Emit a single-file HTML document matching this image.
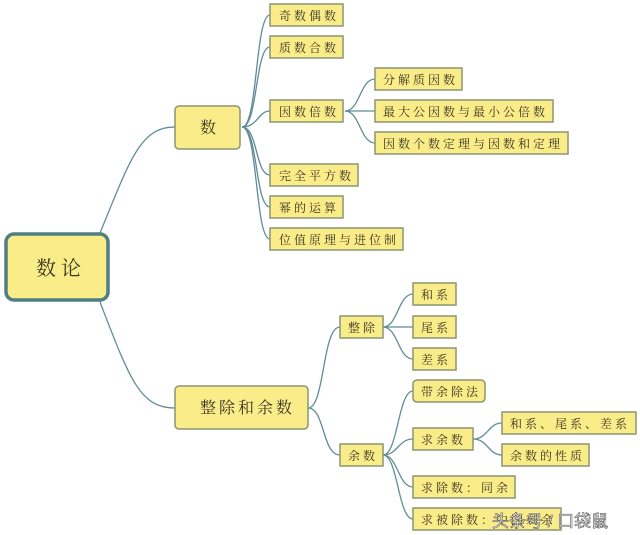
<!DOCTYPE html>
<html><head><meta charset="utf-8"><style>
html,body{margin:0;padding:0;background:#fff;width:640px;height:535px;overflow:hidden}
text{font-family:"Liberation Serif","Noto Serif CJK SC","Noto Sans CJK SC",serif;fill:#3a3520}
</style></head><body>
<svg width="640" height="535" viewBox="0 0 640 535" xmlns="http://www.w3.org/2000/svg">
<g fill="none" stroke="#5f8c98" stroke-width="1.3">
<path d="M100 233 C130 160,140 127,175 127"/>
<path d="M100 302 C130 380,140 408,175 408"/>
<path d="M242 127 C258 127,255 15,270 15"/>
<path d="M242 127 C258 127,255 47,270 47"/>
<path d="M242 127 C258 127,258 111,270 111"/>
<path d="M242 127 C258 127,255 175,270 175"/>
<path d="M242 127 C258 127,255 207,270 207"/>
<path d="M242 127 C258 127,255 239,270 239"/>
<path d="M345 111 C360 111,360 79,375 79"/>
<path d="M345 111 L375 111"/>
<path d="M345 111 C360 111,360 143,375 143"/>
<path d="M308 408 C325 408,322 327,340 327"/>
<path d="M308 408 C325 408,322 455,340 455"/>
<path d="M383 327 C398 327,398 294,413 294"/>
<path d="M383 327 L413 327"/>
<path d="M383 327 C398 327,398 359,413 359"/>
<path d="M383 455 C398 455,398 391,413 391"/>
<path d="M383 455 C398 455,398 439,413 439"/>
<path d="M383 455 C398 455,398 487,413 487"/>
<path d="M383 455 C398 455,398 519,413 519"/>
<path d="M473 439 C488 439,488 423,502 423"/>
<path d="M473 439 C488 439,488 455,502 455"/>
</g>
<g fill="#fbec8a" stroke="#8a9672" stroke-width="1.5">
<rect x="6" y="234" width="102" height="66" rx="8" stroke="#4f7f82" stroke-width="3.5"/>
<rect x="175" y="106" width="65" height="43" rx="4"/>
<rect x="175" y="386" width="133" height="43" rx="4"/>
<rect x="270" y="4" width="73" height="22"/>
<rect x="270" y="36" width="73" height="22"/>
<rect x="270" y="100" width="73" height="22"/>
<rect x="270" y="164" width="88" height="22"/>
<rect x="270" y="196" width="73" height="22"/>
<rect x="270" y="228" width="133" height="22"/>
<rect x="375" y="68" width="87" height="22"/>
<rect x="375" y="100" width="178" height="22"/>
<rect x="375" y="132" width="193" height="22"/>
<rect x="340" y="316" width="43" height="22"/>
<rect x="340" y="444" width="43" height="22"/>
<rect x="413" y="283" width="43" height="22"/>
<rect x="413" y="316" width="43" height="22"/>
<rect x="413" y="348" width="43" height="22"/>
<rect x="413" y="380" width="72" height="22" rx="4"/>
<rect x="413" y="428" width="60" height="22"/>
<rect x="502" y="412" width="134" height="22"/>
<rect x="502" y="444" width="87" height="22"/>
<rect x="413" y="476" width="102" height="22"/>
<rect x="413" y="508" width="148" height="22"/>
</g>
<g font-size="12" letter-spacing="3">
<text x="279" y="20">奇数偶数</text>
<text x="279" y="52">质数合数</text>
<text x="279" y="116">因数倍数</text>
<text x="279" y="180">完全平方数</text>
<text x="279" y="212">幂的运算</text>
<text x="279" y="244">位值原理与进位制</text>
<text x="383" y="84">分解质因数</text>
<text x="383" y="116">最大公因数与最小公倍数</text>
<text x="383" y="148">因数个数定理与因数和定理</text>
<text x="348" y="332">整除</text>
<text x="348" y="460">余数</text>
<text x="421" y="299">和系</text>
<text x="421" y="332">尾系</text>
<text x="421" y="364">差系</text>
<text x="421" y="396">带余除法</text>
<text x="421" y="444">求余数</text>
<text x="510" y="428">和系、尾系、差系</text>
<text x="510" y="460">余数的性质</text>
<text x="421" y="492">求除数：同余</text>
<text x="421" y="524">求被除数：中国剩余</text>
</g>
<text x="200" y="133" font-size="16">数</text>
<text x="200" y="413" font-size="16" letter-spacing="3">整除和余数</text>
<text x="36" y="275" font-size="20" letter-spacing="5">数论</text>
<text x="492" y="527" font-size="17" style="fill:#fff;stroke:#555;stroke-width:0.6;font-family:'Liberation Sans','Noto Sans CJK SC',sans-serif">头条号 / 口袋鼠</text>
</svg>
</body></html>
